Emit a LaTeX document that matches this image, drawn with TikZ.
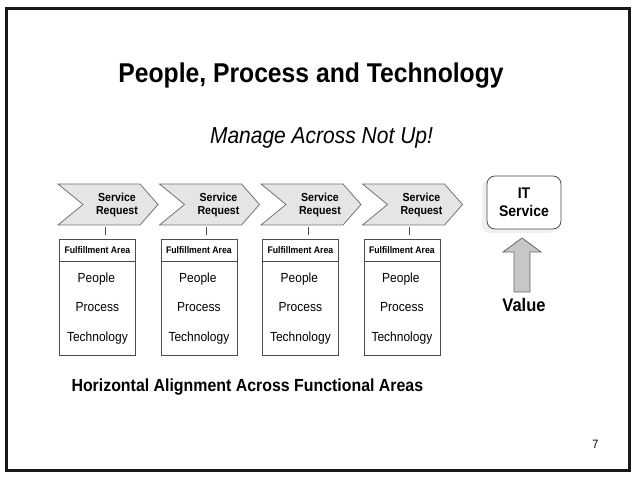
\documentclass[tikz,border=0pt]{standalone}
\usepackage{fontspec}
\setmainfont{Liberation Sans}
\usetikzlibrary{calc,shadows}

% text in the slide is a little taller than wide
\newcommand{\tall}[1]{\scalebox{1}[1.1]{#1}}

\begin{document}
\begin{tikzpicture}[x=1pt,y=-1pt,
  chevron/.style={draw=black!55, fill=black!10, line width=0.8pt},
  srtext/.style={align=center, font=\fontsize{10.6}{13}\selectfont\bfseries},
  areabox/.style={draw=black!70, line width=0.8pt, minimum width=76pt, minimum height=116pt, inner sep=0pt},
  areahead/.style={draw=black!70, line width=0.8pt, minimum width=76pt, minimum height=22pt, inner sep=0pt, font=\fontsize{8.7}{10}\selectfont\bfseries},
  item/.style={anchor=base, font=\fontsize{12}{14}\selectfont}
]
\useasboundingbox (0,0) rectangle (638,478);

\draw[line width=3pt, black!90] (6.5,9) rectangle (629.5,471);

\node[anchor=base, font=\fontsize{24.7}{28}\selectfont\bfseries] (title) at (311,83) {\tall{People, Process and Technology}};
\node[anchor=base, font=\fontsize{21}{24}\selectfont\itshape] (motto) at (321.5,144) {\tall{Manage Across Not Up!}};

\foreach \i in {1,2,3,4}
{
\pgfmathsetmacro\L{58+101.5*(\i-1)}
\draw[chevron] (\L,184) -- ++(82,0) -- ++(18,20.5) -- ++(-18,20.5) -- ++(-82,0) -- ++(25,-20.5) -- cycle;
\node[srtext] (sr\i) at (\L+59,205) {\tall{Service}\\\tall{Request}};
\coordinate (cb\i) at (\L+47,225);

\node[areabox, anchor=north west] (box\i) at (\L+1,239) {};
\node[areahead, anchor=north] (fa\i) at (box\i.north) {\raisebox{-1.5pt}{\tall{Fulfillment Area}}};
\draw[black!70, line width=0.8pt, shorten <=2pt, shorten >=4pt] (cb\i) -- (cb\i |- box\i.north);

\node[item] (people\i) at ($(box\i.north)+(-1,44)$) {\tall{People}};
\node[item] (process\i) at ($(box\i.north)+(0,73)$) {\tall{Process}};
\node[item] (tech\i) at ($(box\i.north)+(0,103)$) {\tall{Technology}};
}

% IT service and value arrow
\node[draw=black!70, line width=0.8pt, fill=white, rounded corners=8pt, minimum width=74pt, minimum height=53pt,
  align=center, font=\fontsize{14}{18}\selectfont\bfseries,
  drop shadow={shadow xshift=-5pt, shadow yshift=-4pt, fill=black!6, opacity=1}] (its) at (524,202.5) {\tall{IT}\\\tall{Service}};

\draw[draw=black!60, fill=black!22, line width=0.8pt] (514,292) -- (514,252) -- (503,252) -- (522,238) -- (541,252) -- (530,252) -- (530,292) -- cycle;
\node[anchor=base, font=\fontsize{16.5}{20}\selectfont\bfseries] (value) at (524,312) {\tall{Value}};

\node[anchor=base west, font=\fontsize{15.9}{19}\selectfont\bfseries] (align) at (68,392) {\tall{Horizontal Alignment Across Functional Areas}};

\node[anchor=base, font=\fontsize{11}{13}\selectfont] (page) at (595.5,449) {\tall{7}};

\end{tikzpicture}
\end{document}
